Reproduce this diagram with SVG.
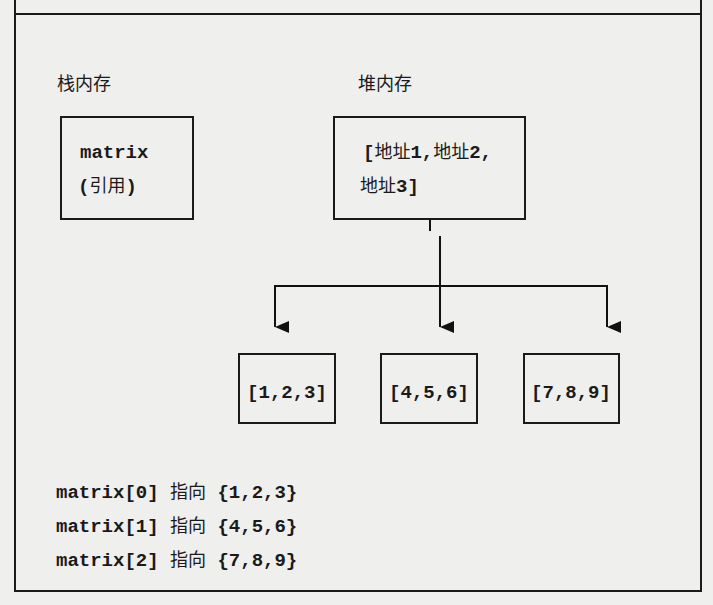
<svg xmlns="http://www.w3.org/2000/svg" width="713" height="605" viewBox="0 0 713 605">
<defs>
<marker id="ah" viewBox="0 0 12 14" refX="6" refY="14" markerWidth="12" markerHeight="14" markerUnits="userSpaceOnUse" orient="auto-start-reverse"><path d="M0,0 L12,0 L6,14 Z" fill="#111"/></marker>
<style>
.b{fill:none;stroke:#1a1a1a;stroke-width:2}
.t{font-family:"Liberation Mono","Noto Sans CJK SC",monospace;font-size:19px;fill:#1a1a1a;font-weight:bold}
.c{font-family:"Noto Sans CJK SC",sans-serif;font-size:18px;fill:#1a1a1a}
.n{font-weight:normal;font-family:"Noto Sans CJK SC",sans-serif;font-size:18px}
.l{fill:none;stroke:#111;stroke-width:2}
</style>
</defs>
<rect width="713" height="605" fill="#efefee"/>
<g id="frame">
<path class="b" d="M15,0 V591 H701 V0 M15,14 H701"/>
</g>
<g id="labels">
<text class="c" x="57" y="90">栈内存</text>
<text class="c" x="358" y="90">堆内存</text>
</g>
<g id="stack">
<rect class="b" x="61" y="117" width="132" height="102"/>
<text class="t" x="80" y="158">matrix</text>
<text class="t" x="78" y="192">(<tspan class="n">引用</tspan>)</text>
</g>
<g id="heap">
<rect class="b" x="334" y="117" width="191" height="102"/>
<text class="t" x="363" y="158">[<tspan class="n">地址</tspan>1,<tspan class="n">地址</tspan>2,</text>
<text class="t" x="360" y="192"><tspan class="n">地址</tspan>3]</text>
</g>
<g id="a1"><rect class="b" x="239" y="354" width="96" height="69"/><text class="t" x="287" y="398" text-anchor="middle">[1,2,3]</text></g>
<g id="a2"><rect class="b" x="381" y="354" width="96" height="69"/><text class="t" x="429" y="398" text-anchor="middle">[4,5,6]</text></g>
<g id="a3"><rect class="b" x="524" y="354" width="95" height="69"/><text class="t" x="571" y="398" text-anchor="middle">[7,8,9]</text></g>
<g id="connectors">
<path class="l" d="M430,219 V231"/>
<path class="l" d="M440,236 V327" marker-end="url(#ah)"/>
<path class="l" d="M440,286 H275 V327" marker-end="url(#ah)"/>
<path class="l" d="M440,286 H607 V327" marker-end="url(#ah)"/>
</g>
<g id="notes">
<text class="t" x="56" y="498">matrix[0] <tspan class="n">指向</tspan> {1,2,3}</text>
<text class="t" x="56" y="532">matrix[1] <tspan class="n">指向</tspan> {4,5,6}</text>
<text class="t" x="56" y="566">matrix[2] <tspan class="n">指向</tspan> {7,8,9}</text>
</g>
</svg>
